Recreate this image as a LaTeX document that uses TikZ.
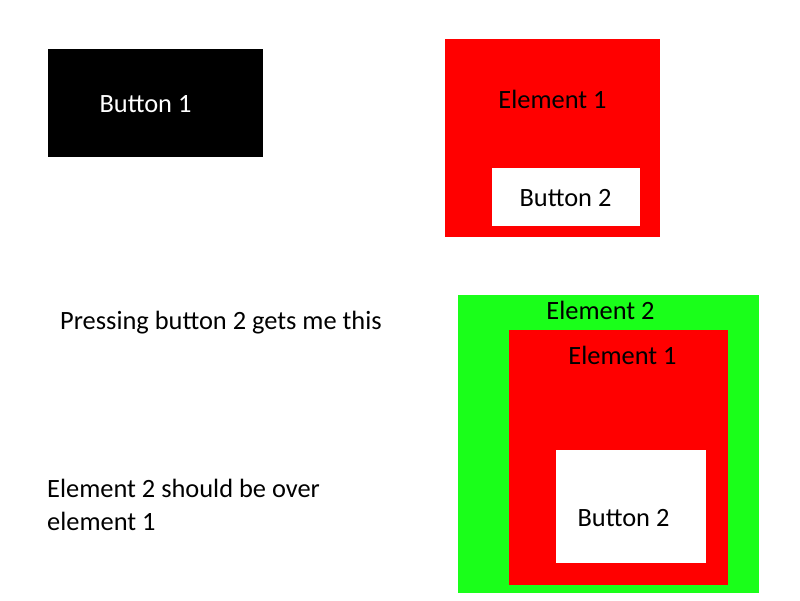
\documentclass[tikz,border=0pt]{standalone}
\usepackage{fontspec}
\setmainfont{Carlito}
\definecolor{boxred}{HTML}{FF0000}
\definecolor{boxgreen}{HTML}{1AFF1A}
\begin{document}
\begin{tikzpicture}[x=1pt,y=-1pt,
  blk/.style={inner sep=0pt,outer sep=0pt,draw=none},
  lbl/.style={inner sep=0pt,anchor=base,font=\fontsize{26.4}{33}\selectfont},
  txt/.style={inner sep=0pt,anchor=base west,font=\fontsize{26.4}{33}\selectfont}]
\useasboundingbox[fill=white] (0,0) rectangle (800,600);
% top row
\node[blk,fill=black,minimum width=215pt,minimum height=108pt] (b1) at (155.5,103) {};
\node[lbl,text=white] (b1t) at (145.5,112.5) {Button 1};
\node[blk,fill=boxred,minimum width=215pt,minimum height=198pt] (e1) at (552.5,138) {};
\node[lbl] (e1t) at (552.5,108.5) {Element 1};
\node[blk,fill=white,minimum width=148pt,minimum height=58pt] (b2) at (566,197) {};
\node[lbl] (b2t) at (565.5,206.5) {Button 2};
% bottom row
\node[blk,fill=boxgreen,minimum width=301pt,minimum height=298pt] (e2b) at (608.5,444) {};
\node[lbl] (e2bt) at (600.5,319) {Element 2};
\node[blk,fill=boxred,minimum width=219pt,minimum height=255pt] (e1b) at (618.5,457) {};
\node[lbl] (e1bt) at (622.5,364.5) {Element 1};
\node[blk,fill=white,minimum width=150pt,minimum height=113pt] (b2b) at (631,506.5) {};
\node[lbl] (b2bt) at (623.5,526) {Button 2};
% texts
\node[txt] (t1) at (60,329.5) {Pressing button 2 gets me this};
\node[txt] (t2) at (47,497) {Element 2 should be over};
\node[txt] (t3) at (47,530) {element 1};
\end{tikzpicture}
\end{document}
